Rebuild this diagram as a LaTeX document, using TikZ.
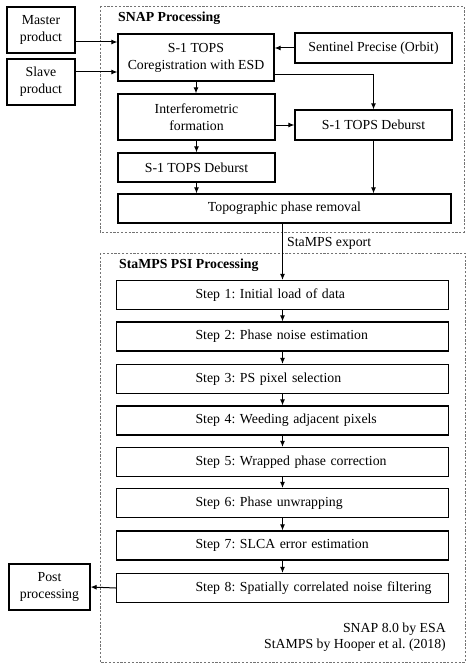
\documentclass[tikz,border=0pt]{standalone}
\usepackage{fontspec}
\setmainfont{Liberation Serif}
\usetikzlibrary{arrows.meta,positioning}
\tikzset{
  box/.style={draw, rectangle, line width=1.2pt, align=center, inner sep=0pt, font=\fontsize{13.8}{17}\selectfont\frenchspacing},
  stepbox/.style={draw, rectangle, line width=1.2pt, minimum height=29pt, text width=332pt, inner xsep=0pt, inner ysep=0pt, align=left, font=\fontsize{13.8}{17}\selectfont\frenchspacing, execute at begin node=\hspace*{79pt}},
  arr/.style={line width=1pt, -{Latex[length=6pt,width=5pt]}},
  group/.style={draw=black!55, line width=0.7pt, dash pattern=on 2.2pt off 1.6pt},
  txt/.style={inner sep=0pt, font=\fontsize{13.8}{17}\selectfont\frenchspacing},
  head/.style={inner sep=0pt, font=\fontsize{13.8}{17}\selectfont\bfseries}
}
\begin{document}
\begin{tikzpicture}[x=1pt,y=-1pt]
\useasboundingbox (0,0) rectangle (474,669);
% groups
\draw[group] (100,6) rectangle (464,232);
\draw[group] (100,253) rectangle (465,662);
\node[head, anchor=west] (snaph) at (118,18) {SNAP Processing};
\node[head, anchor=west] (psih) at (119,265) {StaMPS PSI Processing};
% SNAP nodes
\node[box, minimum width=68pt, minimum height=46pt] (master) at (41,30) {Master\\product};
\node[box, minimum width=68pt, minimum height=46pt] (slave) at (41,82) {Slave\\product};
\node[box, minimum width=156pt, minimum height=47pt] (coreg) at (196,57.5) {S-1 TOPS\\Coregistration with ESD};
\node[box, minimum width=157pt, minimum height=30pt] (orbit) at (373.5,48) {Sentinel Precise (Orbit)};
\node[box, minimum width=157pt, minimum height=46pt] (interf) at (196.5,117) {Interferometric\\formation};
\node[box, minimum width=157pt, minimum height=30pt] (debr) at (373.5,125) {S-1 TOPS Deburst};
\node[box, minimum width=157pt, minimum height=29pt] (debl) at (196.5,167.5) {S-1 TOPS Deburst};
\node[box, minimum width=333pt, minimum height=29pt] (topo) at (284.5,208.5) {Topographic phase removal};
% StaMPS steps
\node[stepbox] (s1) at (282.5,295) {Step 1: Initial load of data};
\node[stepbox] (s2) at (282.5,336.5) {Step 2: Phase noise estimation};
\node[stepbox] (s3) at (282.5,379) {Step 3: PS pixel selection};
\node[stepbox] (s4) at (282.5,420.5) {Step 4: Weeding adjacent pixels};
\node[stepbox] (s5) at (282.5,462) {Step 5: Wrapped phase correction};
\node[stepbox] (s6) at (282.5,503) {Step 6: Phase unwrapping};
\node[stepbox] (s7) at (282.5,545.5) {Step 7: SLCA error estimation};
\node[stepbox] (s8) at (282.5,588) {Step 8: Spatially correlated noise filtering};
\node[box, minimum width=81pt, minimum height=46pt] (post) at (49.5,587) {Post\\processing};
\node[txt, anchor=west] (export) at (287,243) {StaMPS export};
\node[txt, anchor=east] (cred1) at (446,629) {SNAP 8.0 by ESA};
\node[txt, anchor=east] (cred2) at (446,645) {StAMPS by Hooper et al. (2018)};
% connectors
\draw[arr] (master.east |- 0,42) -- (coreg.west |- 0,42);
\draw[arr] (slave.east |- 0,72) -- (coreg.west |- 0,72);
\draw[arr] (orbit.west) -- (coreg.east |- orbit.west);
\draw[arr] (coreg.east |- 0,74) -| (debr.north);
\draw[arr] (coreg.south) -- (coreg.south |- interf.north);
\draw[arr] (interf.east |- debr.west) -- (debr.west);
\draw[arr] (interf.south) -- (interf.south |- debl.north);
\draw[arr] (debl.south) -- (debl.south |- topo.north);
\draw[arr] (debr.south) -- (debr.south |- topo.north);
\draw[arr] (s1.north |- topo.south) -- (s1.north);
\draw[arr] (s1.south) -- (s2.north);
\draw[arr] (s2.south) -- (s3.north);
\draw[arr] (s3.south) -- (s4.north);
\draw[arr] (s4.south) -- (s5.north);
\draw[arr] (s5.south) -- (s6.north);
\draw[arr] (s6.south) -- (s7.north);
\draw[arr] (s7.south) -- (s8.north);
\draw[arr] (s8.west) -- (post.east);
\end{tikzpicture}
\end{document}
